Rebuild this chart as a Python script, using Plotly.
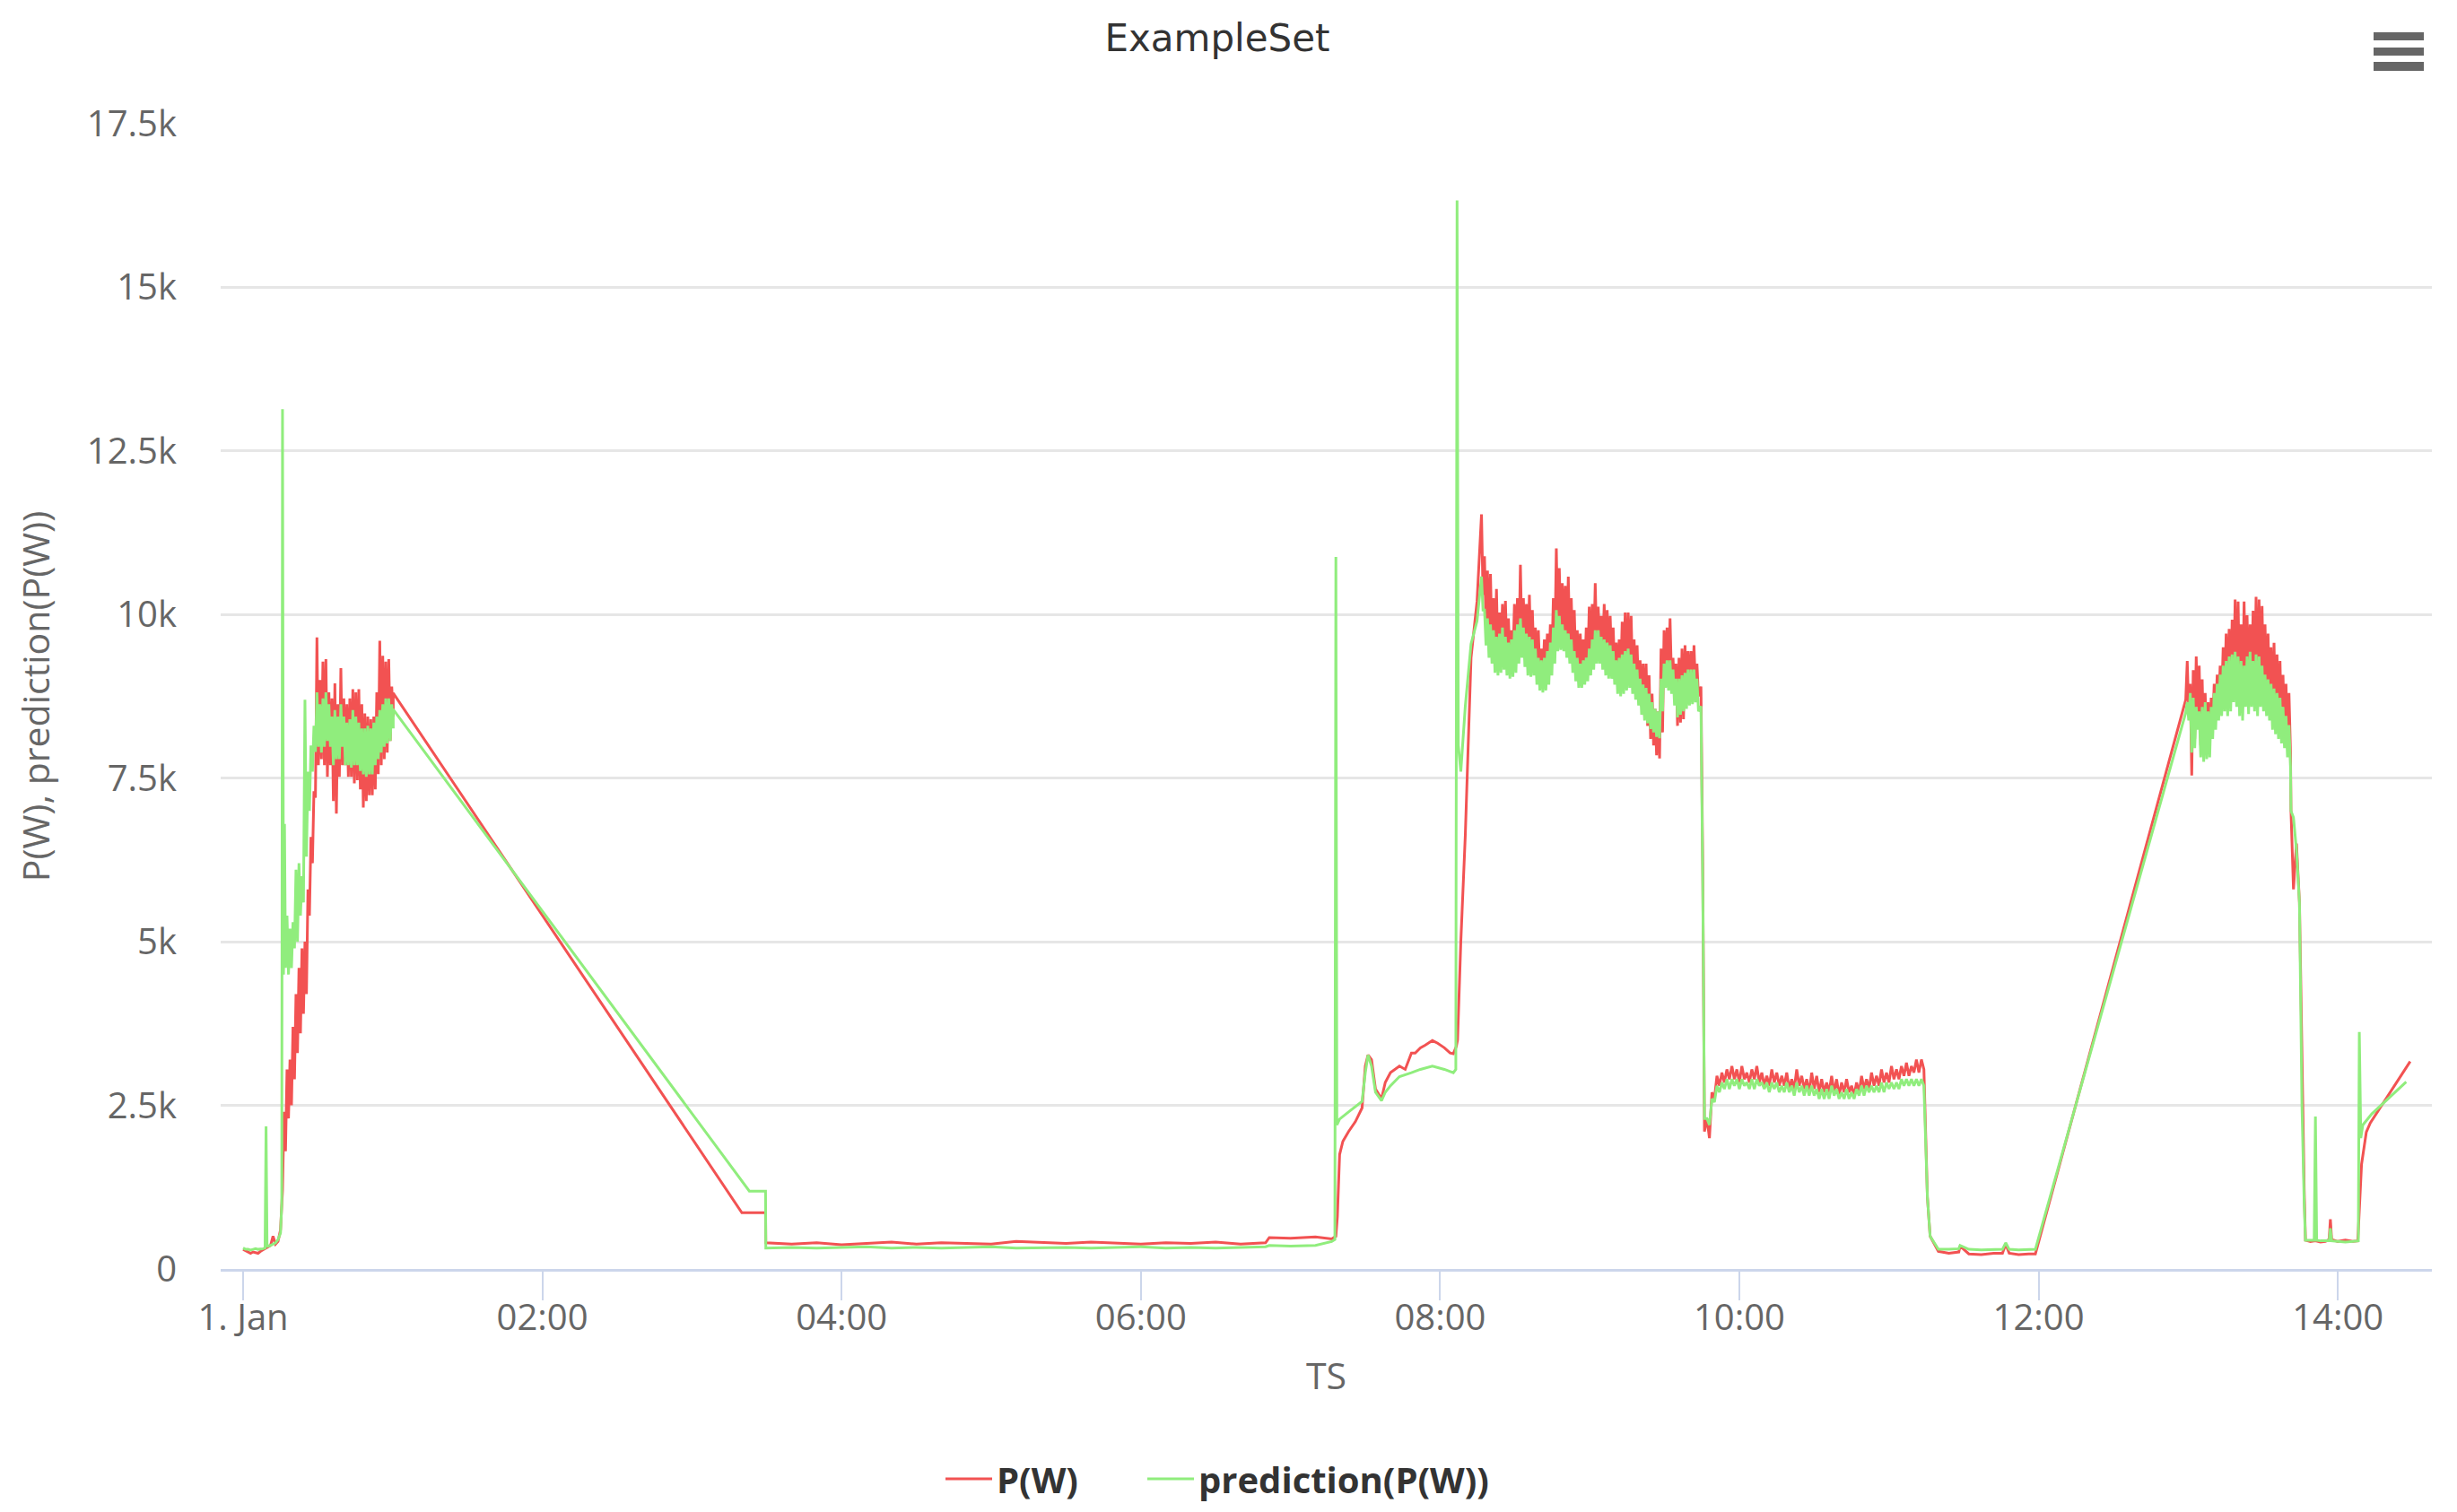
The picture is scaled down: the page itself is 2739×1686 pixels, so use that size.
import pandas as pd
import plotly.graph_objects as go

# ---------------- data (minutes after midnight, values in kW) ----------------
# P(W) (measured)
RED_A_T = [0, 1, 2, 3, 4, 5, 6, 7, 8, 9, 10, 11, 12, 13, 14, 15.0]
RED_A_V = [0.30, 0.28, 0.25, 0.24, 0.26, 0.25, 0.24, 0.27, 0.29, 0.31, 0.33, 0.36, 0.50, 0.38, 0.42, 0.60]
RED_B_T = [15.8, 16.4, 17.0, 17.6, 18.2, 18.8, 19.4, 20.0, 20.6, 21.2, 21.8, 22.4, 23.0, 23.6, 24.2, 24.8,
           25.4, 26.0, 26.6, 27.2, 27.8, 28.4, 29.0]
RED_B_V = [1.2, 2.4, 1.8, 3.05, 2.3, 3.2, 2.5, 3.7, 2.9, 4.2, 3.3, 4.6, 3.6, 4.9, 3.9, 5.0,
           4.2, 5.8, 5.4, 6.6, 6.2, 7.3, 7.2]
# plateau 1 : start 29.6 min, 1.2 min per reading (high / low of the noise band)
P1_START, P1_STEP = 29.6, 1.2
R1_HI = [9.65, 9.0, 9.28, 9.32, 8.81, 8.72, 8.95, 8.63, 9.18, 8.72, 8.63, 8.72, 8.86, 8.81, 8.86, 8.63,
         8.49, 8.44, 8.40, 8.44, 8.81, 9.6, 9.37, 9.28, 9.32, 8.9]
R1_LO = [7.7, 7.79, 7.7, 7.52, 7.7, 7.15, 6.96, 7.52, 7.7, 7.7, 7.52, 7.52, 7.42, 7.47, 7.33, 7.05,
         7.15, 7.24, 7.24, 7.33, 7.56, 7.7, 7.79, 7.89, 8.07, 8.44]
RED_C_T = [60.2, 200.0, 209.5, 209.6]
RED_C_V = [8.8, 0.86, 0.86, 0.40]
RED_D_T = [220, 230, 240, 250, 260, 270, 280, 290, 300, 310, 320, 330, 340, 350, 360, 370, 380, 390,
           400, 410, 411.5, 420, 430, 436.5]
RED_D_V = [0.38, 0.40, 0.37, 0.39, 0.41, 0.38, 0.40, 0.39, 0.38, 0.42, 0.40, 0.39, 0.41, 0.40, 0.38, 0.40,
           0.39, 0.41, 0.38, 0.40, 0.48, 0.47, 0.49, 0.46]
RED_E_T = [437.5, 438.2, 438.8, 439.7, 441.0, 443.3, 446.0, 448.7, 450.0, 451.1, 452.5, 454.1, 456.5,
           458.0, 460.1, 462.0, 463.7, 466.0, 468.5, 470.0, 472.1, 474.0, 476.9, 479.0, 481.7, 484.0,
           485.3, 486.5, 487.0, 488.3, 490.1, 492.4, 494.8]
RED_E_V = [0.48, 0.5, 0.8, 1.75, 1.95, 2.1, 2.25, 2.46, 3.1, 3.27, 3.2, 2.75, 2.6, 2.85, 3.0, 3.05, 3.1,
           3.05, 3.3, 3.3, 3.38, 3.42, 3.49, 3.45, 3.38, 3.3, 3.29, 3.4, 3.5, 5.0, 6.63, 9.34, 10.2]
# plateau 2 : start 496.6 min, 1.2 min per reading
P2_START, P2_STEP = 496.6, 1.2
R2_HI = [11.53, 10.89, 10.67, 10.62, 10.25, 10.39, 10.03, 10.16, 10.21, 9.94,
         9.76, 10.16, 10.25, 10.76, 10.25, 10.16, 10.30, 10.07, 9.80, 9.76,
         9.48, 9.62, 9.71, 9.85, 10.25, 11.01, 10.71, 10.48, 10.44, 10.58,
         10.25, 10.07, 9.76, 9.71, 9.62, 9.80, 10.12, 10.16, 10.48, 10.12,
         9.98, 10.16, 10.07, 9.98, 9.80, 9.57, 9.62, 9.89, 10.03, 10.03,
         9.98, 9.62, 9.53, 9.30, 9.25, 9.25, 9.07, 8.79, 8.56, 8.52,
         9.48, 9.76, 9.80, 9.94, 9.34, 9.25, 9.34, 9.48, 9.53, 9.44,
         9.44, 9.53, 9.25]
R2_LO = [10.3, 9.8, 9.6, 9.5, 9.35, 9.3, 9.35, 9.4, 9.3, 9.25,
         9.3, 9.35, 9.5, 9.6, 9.45, 9.3, 9.3, 9.3, 9.15, 9.05,
         9.05, 9.1, 9.15, 9.3, 9.5, 9.7, 9.7, 9.65, 9.55, 9.5,
         9.35, 9.2, 9.1, 9.1, 9.15, 9.2, 9.3, 9.4, 9.5, 9.5,
         9.4, 9.3, 9.25, 9.25, 9.15, 9.0, 8.95, 9.0, 9.05, 9.1,
         9.0, 8.9, 8.8, 8.6, 8.45, 8.3, 8.1, 8.0, 7.85, 7.8,
         8.2, 9.1, 9.05, 9.0, 8.8, 8.3, 8.35, 8.4, 8.8, 8.85,
         8.85, 8.9, 8.75]
RED_F_T = [584.6, 585.3, 586.0]
RED_F_V = [8.9, 6.2, 2.1]
# flat ~3 kW stretch : start 587 min, 2 min per reading
P3_START, P3_STEP = 587.0, 2.0
R3_HI = [2.3, 2.7, 2.95, 3.0, 3.05, 3.1, 3.05, 3.1, 3.0, 3.05,
         3.1, 3.0, 2.95, 3.05, 3.0, 2.95, 3.0, 2.9, 3.05, 2.95,
         2.9, 3.0, 2.95, 2.9, 2.85, 2.95, 2.9, 2.85, 2.9, 2.8,
         2.85, 2.95, 2.9, 3.0, 2.95, 3.05, 3.0, 3.1, 3.05, 3.1,
         3.15, 3.1, 3.2, 3.2]
R3_LO = [2.0, 2.6, 2.8, 2.85, 2.9, 2.9, 2.85, 2.9, 2.85, 2.9,
         2.85, 2.8, 2.8, 2.85, 2.8, 2.8, 2.75, 2.75, 2.8, 2.75,
         2.7, 2.75, 2.7, 2.7, 2.7, 2.7, 2.65, 2.7, 2.7, 2.65,
         2.7, 2.75, 2.75, 2.8, 2.8, 2.85, 2.85, 2.9, 2.9, 2.95,
         2.95, 3.0, 3.0, 3.05]
RED_G_T = [675.4, 676.5, 679.8, 684, 688, 688.5, 692, 697, 702, 705.5, 706.8, 708.2, 712, 716, 718.7]
RED_G_V = [1.1, 0.5, 0.27, 0.24, 0.26, 0.35, 0.23, 0.22, 0.24, 0.24, 0.38, 0.24, 0.22, 0.23, 0.23]
RED_H_T = [779.0]
RED_H_V = [8.7]
# plateau 3 : start 779.6 min, 1.2 min per reading
P4_START, P4_STEP = 779.6, 1.2
R4_HI = [9.29, 8.94, 9.15, 9.36, 9.22, 9.01, 8.80, 8.66, 8.73, 8.94,
         9.08, 9.22, 9.50, 9.71, 9.78, 9.92, 10.23, 10.20, 9.85, 10.20,
         9.99, 9.85, 10.06, 10.27, 10.23, 10.13, 9.85, 9.71, 9.50, 9.57,
         9.39, 9.29, 9.08, 8.94, 8.80]
R4_LO = [8.5, 7.54, 8.1, 8.4, 8.0, 7.95, 8.0, 8.0, 8.3, 8.45,
         8.6, 8.7, 8.8, 8.75, 8.8, 8.9, 8.85, 8.7, 8.65, 8.85,
         8.75, 8.85, 8.8, 8.7, 8.85, 8.8, 8.7, 8.6, 8.5, 8.4,
         8.35, 8.25, 8.2, 8.05, 7.9]
RED_I_T = [821.2, 822.2, 823.4, 824.6, 825.6, 826.5, 827.0]
RED_I_V = [7.0, 5.8, 6.5, 5.6, 3.0, 1.2, 0.44]
RED_J_T = [829, 831, 833, 835, 836.5, 837.0, 837.5, 840, 843, 846, 848.0, 848.6, 849.5, 851.4, 853.0, 869.0]
RED_J_V = [0.42, 0.43, 0.41, 0.42, 0.45, 0.76, 0.45, 0.42, 0.44, 0.42, 0.43, 0.9, 1.6, 2.09, 2.23, 3.17]

# prediction(P(W))
GRN_A_T = [0, 1, 2, 3, 4, 5, 6, 7, 8, 8.8, 9.2, 9.6, 10, 11, 12, 13, 14, 15.0]
GRN_A_V = [0.32, 0.30, 0.30, 0.29, 0.30, 0.31, 0.30, 0.30, 0.31, 0.32, 2.18, 0.34, 0.35, 0.36, 0.38, 0.40,
           0.45, 0.55]
GRN_B_T = [15.5, 15.8, 16.2, 16.6, 17.0, 17.6, 18.2, 18.8, 19.4, 20.0, 20.6, 21.2, 21.8, 22.4, 23.0, 23.6,
           24.2, 24.8, 25.4, 26.0, 26.6, 27.2, 27.8, 28.4, 29.0]
GRN_B_V = [1.0, 13.14, 4.5, 6.8, 4.6, 5.4, 4.5, 5.2, 4.6, 5.3, 4.9, 6.1, 5.0, 6.2, 5.4, 6.0,
           5.6, 8.7, 6.3, 7.6, 7.0, 8.0, 7.6, 8.3, 7.9]
G1_HI = [8.81, 8.63, 8.72, 8.81, 8.63, 8.44, 8.54, 8.44, 8.63, 8.44, 8.35, 8.40, 8.54, 8.44, 8.35, 8.26,
         8.26, 8.30, 8.26, 8.35, 8.44, 8.54, 8.63, 8.72, 8.72, 8.63]
G1_LO = [7.98, 7.89, 7.98, 8.07, 7.98, 7.7, 7.79, 7.79, 7.98, 7.7, 7.7, 7.66, 7.7, 7.7, 7.61, 7.56,
         7.52, 7.56, 7.56, 7.7, 7.79, 7.89, 7.98, 8.03, 8.07, 8.26]
GRN_C_T = [60.2, 203.0, 209.5, 209.6]
GRN_C_V = [8.55, 1.19, 1.19, 0.32]
GRN_D_T = RED_D_T
GRN_D_V = [0.33, 0.32, 0.33, 0.34, 0.32, 0.33, 0.32, 0.33, 0.34, 0.32, 0.33, 0.33, 0.32, 0.33, 0.34, 0.32,
           0.33, 0.32, 0.33, 0.34, 0.36, 0.35, 0.36, 0.42]
GRN_E_T = [437.8, 438.2, 438.6, 439.7, 443.3, 448.7, 450.0, 451.1, 452.5, 454.1, 456.5, 458.0, 460.1,
           463.7, 468.5, 472.1, 476.9, 481.7, 485.3, 486.3, 486.8, 487.3, 488.3, 490.1, 492.4, 494.8]
GRN_E_V = [0.45, 10.88, 2.2, 2.29, 2.4, 2.56, 3.0, 3.27, 3.1, 2.7, 2.57, 2.7, 2.8, 2.94, 3.0, 3.05, 3.1,
           3.05, 3.0, 3.05, 16.33, 8.0, 7.6, 8.6, 9.55, 9.9]
G2_HI = [10.58, 10.07, 9.94, 9.85, 9.76, 9.66, 9.71, 9.80, 9.66, 9.57,
         9.62, 9.76, 9.85, 9.94, 9.80, 9.71, 9.66, 9.62, 9.48, 9.34,
         9.30, 9.34, 9.44, 9.57, 9.80, 10.07, 9.98, 9.85, 9.76, 9.71,
         9.62, 9.44, 9.34, 9.25, 9.30, 9.34, 9.48, 9.62, 9.76, 9.76,
         9.66, 9.62, 9.57, 9.53, 9.44, 9.30, 9.34, 9.39, 9.44, 9.48,
         9.39, 9.25, 9.16, 9.02, 8.93, 8.88, 8.79, 8.66, 8.56, 8.52,
         9.02, 9.25, 9.30, 9.30, 9.16, 9.02, 9.02, 9.07, 9.11, 9.16,
         9.16, 9.16, 9.02]
G2_LO = [10.07, 9.53, 9.34, 9.25, 9.11, 9.07, 9.11, 9.16, 9.07, 9.02,
         9.05, 9.11, 9.25, 9.34, 9.20, 9.07, 9.05, 9.07, 8.93, 8.84,
         8.81, 8.84, 8.93, 9.07, 9.25, 9.44, 9.46, 9.44, 9.34, 9.25,
         9.11, 8.98, 8.88, 8.88, 8.93, 8.98, 9.07, 9.16, 9.25, 9.25,
         9.16, 9.07, 9.02, 9.02, 8.93, 8.79, 8.75, 8.79, 8.84, 8.88,
         8.79, 8.70, 8.61, 8.47, 8.38, 8.34, 8.25, 8.20, 8.13, 8.11,
         8.52, 8.88, 8.84, 8.79, 8.61, 8.43, 8.47, 8.52, 8.56, 8.61,
         8.63, 8.66, 8.52]
GRN_F_T = [584.6, 585.3, 586.0]
GRN_F_V = [8.6, 6.0, 2.3]
G3_HI = [2.3, 2.6, 2.8, 2.85, 2.9, 2.9, 2.9, 2.9, 2.85, 2.9,
         2.9, 2.85, 2.85, 2.85, 2.85, 2.8, 2.85, 2.8, 2.85, 2.8,
         2.8, 2.8, 2.75, 2.75, 2.75, 2.8, 2.75, 2.7, 2.75, 2.7,
         2.75, 2.8, 2.8, 2.8, 2.8, 2.85, 2.85, 2.85, 2.85, 2.9,
         2.9, 2.9, 2.9, 2.9]
G3_LO = [2.2, 2.55, 2.7, 2.75, 2.75, 2.8, 2.75, 2.8, 2.75, 2.75,
         2.8, 2.75, 2.7, 2.75, 2.7, 2.7, 2.7, 2.65, 2.7, 2.65,
         2.65, 2.65, 2.6, 2.6, 2.6, 2.65, 2.6, 2.6, 2.6, 2.6,
         2.65, 2.65, 2.7, 2.7, 2.7, 2.7, 2.75, 2.75, 2.75, 2.8,
         2.8, 2.8, 2.8, 2.8]
GRN_G_T = RED_G_T
GRN_G_V = [1.1, 0.5, 0.3, 0.3, 0.31, 0.36, 0.3, 0.29, 0.3, 0.3, 0.4, 0.3, 0.29, 0.3, 0.3]
GRN_H_T = [779.0]
GRN_H_V = [8.5]
G4_HI = [8.66, 8.80, 8.73, 8.59, 8.52, 8.59, 8.66, 8.52, 8.59, 8.80,
         8.94, 9.08, 9.22, 9.29, 9.36, 9.39, 9.43, 9.36, 9.29, 9.22,
         9.36, 9.43, 9.29, 9.39, 9.36, 9.22, 9.08, 9.01, 8.94, 8.87,
         8.80, 8.73, 8.59, 8.45, 8.31]
G4_LO = [8.38, 7.89, 7.96, 8.24, 7.82, 7.75, 7.79, 7.82, 8.10, 8.24,
         8.38, 8.45, 8.52, 8.45, 8.52, 8.66, 8.59, 8.45, 8.38, 8.59,
         8.48, 8.59, 8.52, 8.45, 8.59, 8.52, 8.45, 8.38, 8.24, 8.17,
         8.10, 8.03, 7.96, 7.82, 7.68]
GRN_I_T = [821.2, 822.2, 823.4, 824.6, 825.6, 826.5, 827.0]
GRN_I_V = [7.0, 6.9, 6.4, 5.6, 2.5, 1.0, 0.44]
GRN_J_T = [829, 830.5, 831.0, 831.5, 833, 836.5, 837.0, 837.5, 840, 843, 846, 848.2, 848.6, 849.2, 850.0,
           853.6, 867.4]
GRN_J_V = [0.44, 0.44, 2.33, 0.44, 0.43, 0.43, 0.62, 0.43, 0.42, 0.41, 0.42, 0.43, 3.62, 2.0, 2.2, 2.37, 2.86]

Y_TICKS = [0, 2500, 5000, 7500, 10000, 12500, 15000, 17500]
Y_TICK_TEXT = ["0", "2.5k", "5k", "7.5k", "10k", "12.5k", "15k", "17.5k"]
X_TICK_HOURS = [0, 2, 4, 6, 8, 10, 12, 14]
X_TICK_TEXT = ["1. Jan", "02:00", "04:00", "06:00", "08:00", "10:00", "12:00", "14:00"]

# ---------------- assemble ----------------
def band(start, step, hi, lo):
    t, v = [], []
    for i, (h, l) in enumerate(zip(hi, lo)):
        t += [start + i * step, start + i * step + step / 2]
        v += [h, l]
    return t, v


def build(parts):
    t, v = [], []
    for pt, pv in parts:
        t += list(pt)
        v += list(pv)
    return t, v


red_t, red_v = build([
    (RED_A_T, RED_A_V), (RED_B_T, RED_B_V), band(P1_START, P1_STEP, R1_HI, R1_LO),
    (RED_C_T, RED_C_V), (RED_D_T, RED_D_V), (RED_E_T, RED_E_V),
    band(P2_START, P2_STEP, R2_HI, R2_LO), (RED_F_T, RED_F_V),
    band(P3_START, P3_STEP, R3_HI, R3_LO), (RED_G_T, RED_G_V), (RED_H_T, RED_H_V),
    band(P4_START, P4_STEP, R4_HI, R4_LO), (RED_I_T, RED_I_V), (RED_J_T, RED_J_V),
])
grn_t, grn_v = build([
    (GRN_A_T, GRN_A_V), (GRN_B_T, GRN_B_V), band(P1_START, P1_STEP, G1_HI, G1_LO),
    (GRN_C_T, GRN_C_V), (GRN_D_T, GRN_D_V), (GRN_E_T, GRN_E_V),
    band(P2_START, P2_STEP, G2_HI, G2_LO), (GRN_F_T, GRN_F_V),
    band(P3_START, P3_STEP, G3_HI, G3_LO), (GRN_G_T, GRN_G_V), (GRN_H_T, GRN_H_V),
    band(P4_START, P4_STEP, G4_HI, G4_LO), (GRN_I_T, GRN_I_V), (GRN_J_T, GRN_J_V),
])

BASE = pd.Timestamp("2017-01-01 00:00:00")
def to_time(mins):
    return BASE + pd.to_timedelta(pd.Series(mins, dtype=float), unit="min")

red_x = to_time(red_t)
grn_x = to_time(grn_t)
red_y = [v * 1000 for v in red_v]
grn_y = [v * 1000 for v in grn_v]

# ---------------- layout (page has an 8px body margin) ----------------
OFF = 8
PAGE_W, PAGE_H = 2739, 1686
W, H = PAGE_W - 2 * OFF, PAGE_H - 2 * OFF
# plot area in page pixels
PL, PR, PT, PB = 246, 2711, 138, 1415
L, R, T, B = PL - OFF, PR - OFF, PT - OFF, PB - OFF

def px_x(p):  # page px -> paper x
    return (p - PL) / (PR - PL)

def px_y(p):  # page px -> paper y
    return (PB - p) / (PB - PT)

FONT = "Open Sans"
fig = go.Figure()
fig.add_trace(go.Scatter(x=red_x, y=red_y, mode="lines", name="P(W)", legendwidth=158,
                         line=dict(color="#f25252", width=3)))
fig.add_trace(go.Scatter(x=grn_x, y=grn_y, mode="lines", name="prediction(P(W))",
                         line=dict(color="#90ed7d", width=3)))

fig.update_layout(
    width=W, height=H,
    margin=dict(l=L, r=W - R, t=T, b=H - B, autoexpand=False),
    paper_bgcolor="white", plot_bgcolor="white",
    font=dict(family=FONT, color="#666666"),
    title=dict(text="ExampleSet", x=(1357 - OFF) / W, xref="container", xanchor="center",
               y=1 - (42 - OFF) / H, yref="container", yanchor="middle",
               font=dict(family="DejaVu Sans", size=42, color="#333333")),
    xaxis=dict(
        range=[BASE + pd.Timedelta(minutes=-9), BASE + pd.Timedelta(minutes=877.7)],
        tickvals=[BASE + pd.Timedelta(hours=h) for h in X_TICK_HOURS],
        ticktext=X_TICK_TEXT,
        showgrid=False, zeroline=False,
        showline=True, linecolor="#ccd6eb", linewidth=3,
        ticks="outside", ticklen=32, tickwidth=2, tickcolor="#ccd6eb",
        ticklabelstandoff=-15,
        tickfont=dict(family=FONT, size=40, color="#666666"),
        title=dict(text="TS", font=dict(family=FONT, size=41, color="#666666"), standoff=27),
        automargin=False,
    ),
    yaxis=dict(
        range=[0, 17500],
        tickvals=Y_TICKS, ticktext=Y_TICK_TEXT,
        showgrid=True, gridcolor="#e6e6e6", gridwidth=3,
        zeroline=False, showline=False,
        ticks="outside", ticklen=40, tickcolor="rgba(0,0,0,0)",
        tickfont=dict(family=FONT, size=40, color="#666666"),
        title=dict(text="P(W), prediction(P(W))", font=dict(family=FONT, size=41, color="#666666"),
                   standoff=28),
        automargin=False,
    ),
    legend=dict(orientation="h", x=px_x(1049), xanchor="left",
                y=px_y(1649), yanchor="middle", itemwidth=52,
                font=dict(family=FONT, size=40, color="#333333", weight="bold"),
                bgcolor="rgba(0,0,0,0)"),
    showlegend=True,
)

# export-menu (hamburger) icon
for top, bot in [(36, 45), (53, 62), (69, 79)]:
    fig.add_shape(type="rect", xref="paper", yref="paper",
                  x0=px_x(2646), x1=px_x(2702), y0=px_y(bot), y1=px_y(top),
                  fillcolor="#666666", line=dict(width=0), layer="above")

fig.write_html("out.html")
